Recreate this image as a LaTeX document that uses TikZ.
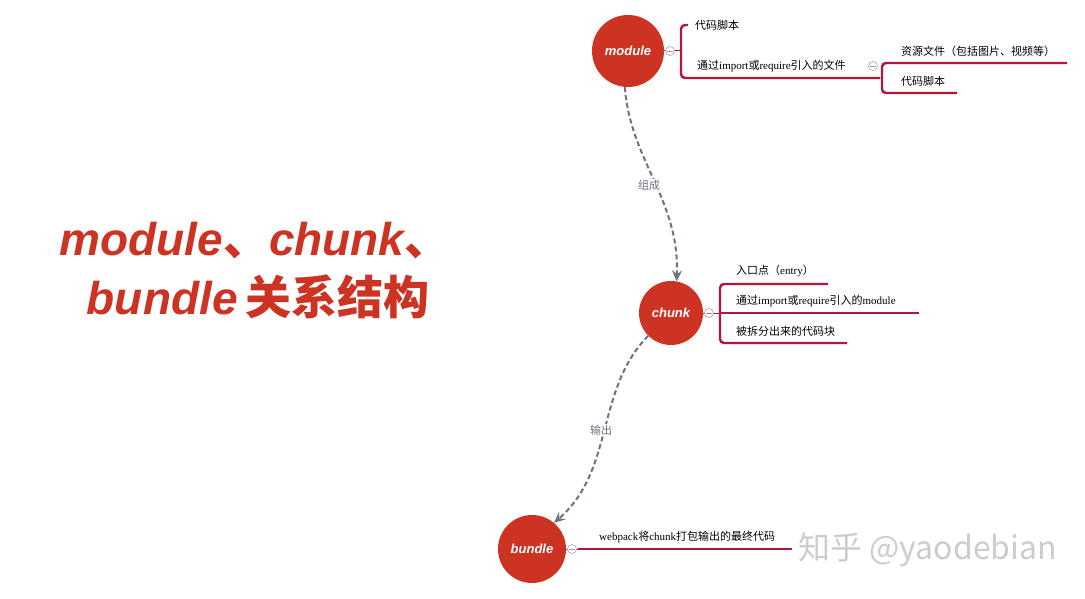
\documentclass[tikz,border=0pt]{standalone}
\usepackage{fontspec}
\setmainfont{Liberation Serif}
\newfontfamily\cjk{Noto Sans CJK SC}
\newfontfamily\cjkb{Noto Sans CJK SC Bold}
\newfontfamily\heads{Liberation Sans}
\usetikzlibrary{arrows.meta}
\definecolor{nodered}{HTML}{CC3322}
\definecolor{linered}{HTML}{B0173A}
\definecolor{dashgray}{HTML}{6B7280}
\tikzset{
  hub/.style={circle,fill=nodered,minimum size=#1,inner sep=0pt,text=white,font=\heads\bfseries\itshape\fontsize{13}{15}\selectfont},
  tog/.style={circle,draw=gray!70,fill=white,minimum size=9pt,inner sep=0pt,line width=0.6pt},
  br/.style={draw=linered,line width=2.4pt,rounded corners=4pt},
  lbl/.style={anchor=west,inner sep=0pt,font=\fontsize{11}{13}\selectfont},
  rel/.style={draw=dashgray,dash pattern=on 5pt off 3pt,line width=2pt,-{Stealth[length=11pt,width=10pt,inset=4pt]}},
  rellbl/.style={fill=white,inner sep=1pt,text=dashgray,font=\cjk\fontsize{11}{13}\selectfont}
}
\begin{document}
\begin{tikzpicture}[x=1pt,y=-1pt]
\useasboundingbox[fill=white] (0,0) rectangle (1085,599);
% title
\node[text=nodered,font=\heads\bfseries\itshape\fontsize{46}{52}\selectfont] (t1) at (255,241) {module{\cjkb 、}chunk{\cjkb 、}};
\node[text=nodered,font=\heads\bfseries\itshape\fontsize{46}{52}\selectfont] (t2) at (258,297) {bundle\,{\upshape\cjkb 关系结构}};
% hubs
\node[hub=72pt] (m) at (628,51) {module};
\node[hub=64pt] (c) at (671,313) {chunk};
\node[hub=68pt] (b) at (532,549) {bundle};
% module branches
\coordinate (mj) at (681,51);
\draw[br] (681,30) -- (681,78) -- (880,78);
\draw[br] (681,30) -- (681,25) -- (688,25);
\node[lbl] (m1) at (695,25) {\cjk 代码脚本};
\node[lbl] (m2) at (697,66) {{\cjk 通过}import{\cjk 或}require{\cjk 引入的文件}};
\draw[br] (1067,63) -- (882,63) -- (882,93) -- (957,93);
\node[lbl] (m21) at (901,51) {\cjk 资源文件（包括图片、视频等）};
\node[lbl] (m22) at (901,81) {\cjk 代码脚本};
\draw[linered,line width=1pt] (m.east) -- (mj);
\node[tog] (mt) at (670,51) {};
\node[tog] (mt2) at (873,66) {};
\draw[gray!80,line width=0.5pt] ([xshift=1.5pt]mt.west) -- ([xshift=-1.5pt]mt.east) ([xshift=1.5pt]mt2.west) -- ([xshift=-1.5pt]mt2.east);
% chunk branches
\draw[br] (828,284) -- (720,284) -- (720,343) -- (847,343);
\draw[br] (720,313) -- (919,313);
\node[lbl] (c1) at (736,271) {{\cjk 入口点（}entry{\cjk ）}};
\node[lbl] (c2) at (736,301) {{\cjk 通过}import{\cjk 或}require{\cjk 引入的}module};
\node[lbl] (c3) at (736,331) {\cjk 被拆分出来的代码块};
\draw[linered,line width=1pt] (c.east) -- (720,313);
\node[tog] (ct) at (709,313) {};
\draw[gray!80,line width=0.5pt] ([xshift=1.5pt]ct.west) -- ([xshift=-1.5pt]ct.east);
% bundle branch
\draw[br] (578,549) -- (792,549);
\draw[linered,line width=1pt] (b.east) -- (578,549);
\node[lbl] (b1) at (599,537) {webpack{\cjk 将}chunk{\cjk 打包输出的最终代码}};
\node[tog] (bt) at (572,549) {};
\draw[gray!80,line width=0.5pt] ([xshift=1.5pt]bt.west) -- ([xshift=-1.5pt]bt.east);
% relations
\draw[rel] (m.-95) .. controls (630,160) and (680,200) .. (c.80);
\node[rellbl] (r1) at (649,185) {组成};
\draw[rel] (c.-135) .. controls (595,390) and (615,470) .. (b.50);
\node[rellbl] (r2) at (601,430) {输出};
% watermark
\node[anchor=west,text=gray!40,font=\cjk\fontsize{32}{36}\selectfont] (wm) at (795,550) {知乎 @yaodebian};
\end{tikzpicture}
\end{document}
